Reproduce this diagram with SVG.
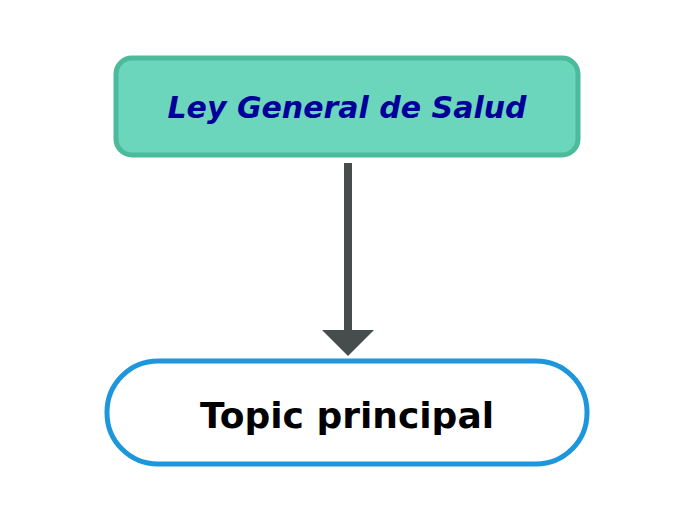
<svg xmlns="http://www.w3.org/2000/svg" width="696" height="520" viewBox="0 0 696 520">
<style>
text{font-family:"DejaVu Sans",sans-serif;font-weight:bold;text-anchor:middle}
</style>
<rect width="696" height="520" fill="#fff"/>
<g id="n1">
<rect x="116" y="58" width="462" height="97" rx="16" fill="#6bd6bb" stroke="#4bbb9c" stroke-width="5"/>
<text x="347" y="118" font-size="30" font-style="italic" fill="#000099">Ley General de Salud</text>
</g>
<g id="connectors">
<line x1="348" y1="163" x2="348" y2="332" stroke="#474c4c" stroke-width="8"/>
<polygon points="322,330 374,330 348,356" fill="#474c4c"/>
</g>
<g id="n2">
<rect x="107" y="361" width="480" height="103" rx="51" fill="#fff" stroke="#1e96dc" stroke-width="5"/>
<text x="347" y="428" font-size="36" fill="#000">Topic principal</text>
</g>
</svg>
